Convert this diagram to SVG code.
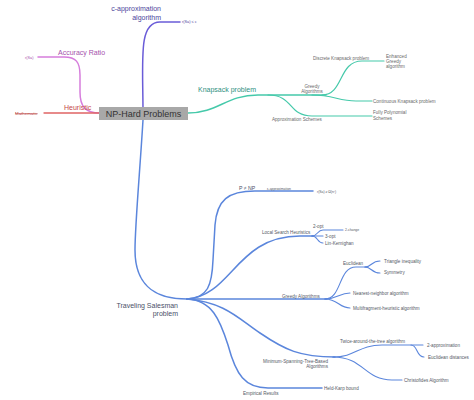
<svg xmlns="http://www.w3.org/2000/svg" width="474" height="400" viewBox="0 0 474 400">
<style>
text{font-family:"Liberation Sans",Arial,sans-serif}
.c{fill:none;stroke-linecap:round}
.pu{stroke:#6a5cd8;stroke-width:1.5}
.pk{stroke:#d67ddc;stroke-width:1.5}
.rd{stroke:#e06464;stroke-width:1.3}
.tl{stroke:#45c9aa;stroke-width:1.5}
.tl2{stroke:#45c9aa;stroke-width:1.2}
.bl{stroke:#5b86dc;stroke-width:1.5}
.bl2{stroke:#5b86dc;stroke-width:1.1}
.s{font-size:4.6px;fill:#555a66}
.t{font-size:3.4px;fill:#555a66}
.k{font-size:4.6px;fill:#6a6a6a}
</style>
<rect width="474" height="400" fill="#ffffff"/>
<g id="connectors">
<path class="c pu" d="M143,113 C143,60 138,22 160,22 L180,22"/>
<path class="c pk" d="M100,113 C85,113 80,106 80,92 L80,75 C80,62 76,57 64,57 L38,57"/>
<path class="c rd" d="M100,113 L44,113"/>
<path class="c tl" d="M188,113 C218,113 226,95 258,95 L326,95"/>
<path class="c tl2" d="M322,95 C344,95 338,61 362,61 L384,61"/>
<path class="c tl2" d="M312,95 C334,95 338,101 356,101 L372,101"/>
<path class="c tl2" d="M268,95 C294,95 288,116 312,116 L372,116"/>
<path class="c bl" d="M143,120 C140,170 135,225 135,250 C135,290 160,299 187,299"/>
<path class="c bl" d="M187,299 C208,298 212,285 213,260 L215,225 C217,200 228,191 255,191 L313,191"/>
<path class="c bl" d="M187,299 C232,296 236,236 300,236 L313,236"/>
<path class="c bl2" d="M312,236 C318,236 317,230 323,230 L343,230"/>
<path class="c bl2" d="M312,236 L323,236"/>
<path class="c bl2" d="M312,236 C318,236 317,243 323,243"/>
<path class="c bl" d="M187,299 L327,299"/>
<path class="c bl2" d="M325,299 C342,299 338,267 356,267 L368,267"/>
<path class="c bl2" d="M365,267 C372,267 371,261 380,261"/>
<path class="c bl2" d="M365,267 C372,267 371,273 380,273"/>
<path class="c bl2" d="M325,299 C338,299 339,293 350,293"/>
<path class="c bl2" d="M325,299 C338,299 339,308 350,308"/>
<path class="c bl" d="M187,299 C225,302 240,320 260,333 C285,350 300,357 335,357"/>
<path class="c bl2" d="M333,357 C356,357 358,345 382,345 L423,345"/>
<path class="c bl2" d="M411,345 C418,345 416,357 424,357"/>
<path class="c bl2" d="M333,357 C364,357 364,380 392,380 L402,380"/>
<path class="c bl" d="M187,299 C212,300 220,320 228,345 C236,375 245,388 268,388 L322,388"/>
</g>
<g id="root">
<rect x="99" y="107" width="89" height="13" fill="#a8a8a8"/>
<text x="143.5" y="116.8" font-size="9" fill="#333333" text-anchor="middle">NP-Hard Problems</text>
</g>
<g id="c-approx">
<text x="161" y="10.5" font-size="7" fill="#4b449c" text-anchor="end">c-approximation</text>
<text x="161" y="19.5" font-size="7" fill="#4b449c" text-anchor="end">algorithm</text>
</g>
<g id="c-approx-r"><text x="182" y="23.3" font-size="3.8" fill="#4b449c">r(Sa) ≤ c</text></g>
<g id="accuracy">
<text x="58" y="54.5" font-size="7" fill="#a552ac">Accuracy Ratio</text>
</g>
<g id="accuracy-r"><text x="25" y="58.5" font-size="3.8" fill="#a552ac">r(Sa)</text></g>
<g id="heuristic"><text x="64" y="109.5" font-size="7" fill="#c44848">Heuristic</text></g>
<g id="mathematic"><text x="15" y="114.6" font-size="4.4" fill="#b84040" text-decoration="line-through">Mathematic</text></g>
<g id="knapsack"><text x="198" y="91.5" font-size="7" fill="#2f8f7f">Knapsack problem</text></g>
<g id="k-greedy">
<text x="312" y="87.5" class="k" text-anchor="middle">Greedy</text>
<text x="312" y="92.7" class="k" text-anchor="middle">Algorithms</text>
</g>
<g id="k-discrete"><text x="313" y="59.6" class="k">Discrete Knapsack problem</text></g>
<g id="k-enhanced">
<text x="386" y="57.6" class="k">Enhanced</text>
<text x="386" y="62.9" class="k">Greedy</text>
<text x="386" y="68.3" class="k">algorithm</text>
</g>
<g id="k-continuous"><text x="373" y="102.6" class="k">Continuous Knapsack problem</text></g>
<g id="k-approx"><text x="272" y="121" class="k">Approximation Schemes</text></g>
<g id="k-fully">
<text x="373" y="114.3" class="k">Fully Polynomial</text>
<text x="373" y="120" class="k">Schemes</text>
</g>
<g id="tsp">
<text x="178" y="308" font-size="7" fill="#4a5068" text-anchor="end">Traveling Salesman</text>
<text x="178" y="316.2" font-size="7" fill="#4a5068" text-anchor="end">problem</text>
</g>
<g id="pnp"><text x="239" y="190" font-size="5.2" fill="#4a5068">P ≠ NP</text></g>
<g id="eps"><text x="267" y="189.5" class="t">ε-approximation</text></g>
<g id="omega"><text x="317" y="193" class="t">r(Sa) ≥ Ω(n²)</text></g>
<g id="local"><text x="262" y="234.4" class="s">Local Search Heuristics</text></g>
<g id="opt2"><text x="313" y="227.6" class="s">2-opt</text></g>
<g id="change2"><text x="345" y="231.2" class="t">2-change</text></g>
<g id="opt3"><text x="325" y="237.6" class="s">3-opt</text></g>
<g id="lin"><text x="325" y="244.6" class="s">Lin-Kernighan</text></g>
<g id="t-greedy"><text x="282" y="297.6" class="s">Greedy Algorithms</text></g>
<g id="euclidean"><text x="343" y="264.6" class="s">Euclidean</text></g>
<g id="triangle"><text x="384" y="262.8" class="s">Triangle inequality</text></g>
<g id="symmetry"><text x="384" y="274.4" class="s">Symmetry</text></g>
<g id="nearest"><text x="353" y="294.6" class="s">Nearest-neighbor algorithm</text></g>
<g id="multi"><text x="353" y="309.8" class="s">Multifragment-heuristic algorithm</text></g>
<g id="mst">
<text x="328" y="362.7" class="s" text-anchor="end">Minimum-Spanning-Tree-Based</text>
<text x="328" y="367.9" class="s" text-anchor="end">Algorithms</text>
</g>
<g id="twice"><text x="340" y="342.6" class="s">Twice-around-the-tree algorithm</text></g>
<g id="approx2"><text x="427" y="346.6" class="s">2-approximation</text></g>
<g id="eucdist"><text x="428" y="358.8" class="s">Euclidean distances</text></g>
<g id="christofides"><text x="404" y="381.7" class="s">Christofides Algorithm</text></g>
<g id="heldkarp"><text x="324" y="389.7" class="s">Held-Karp bound</text></g>
<g id="empirical"><text x="243" y="394.6" class="s">Empirical Results</text></g>
</svg>
